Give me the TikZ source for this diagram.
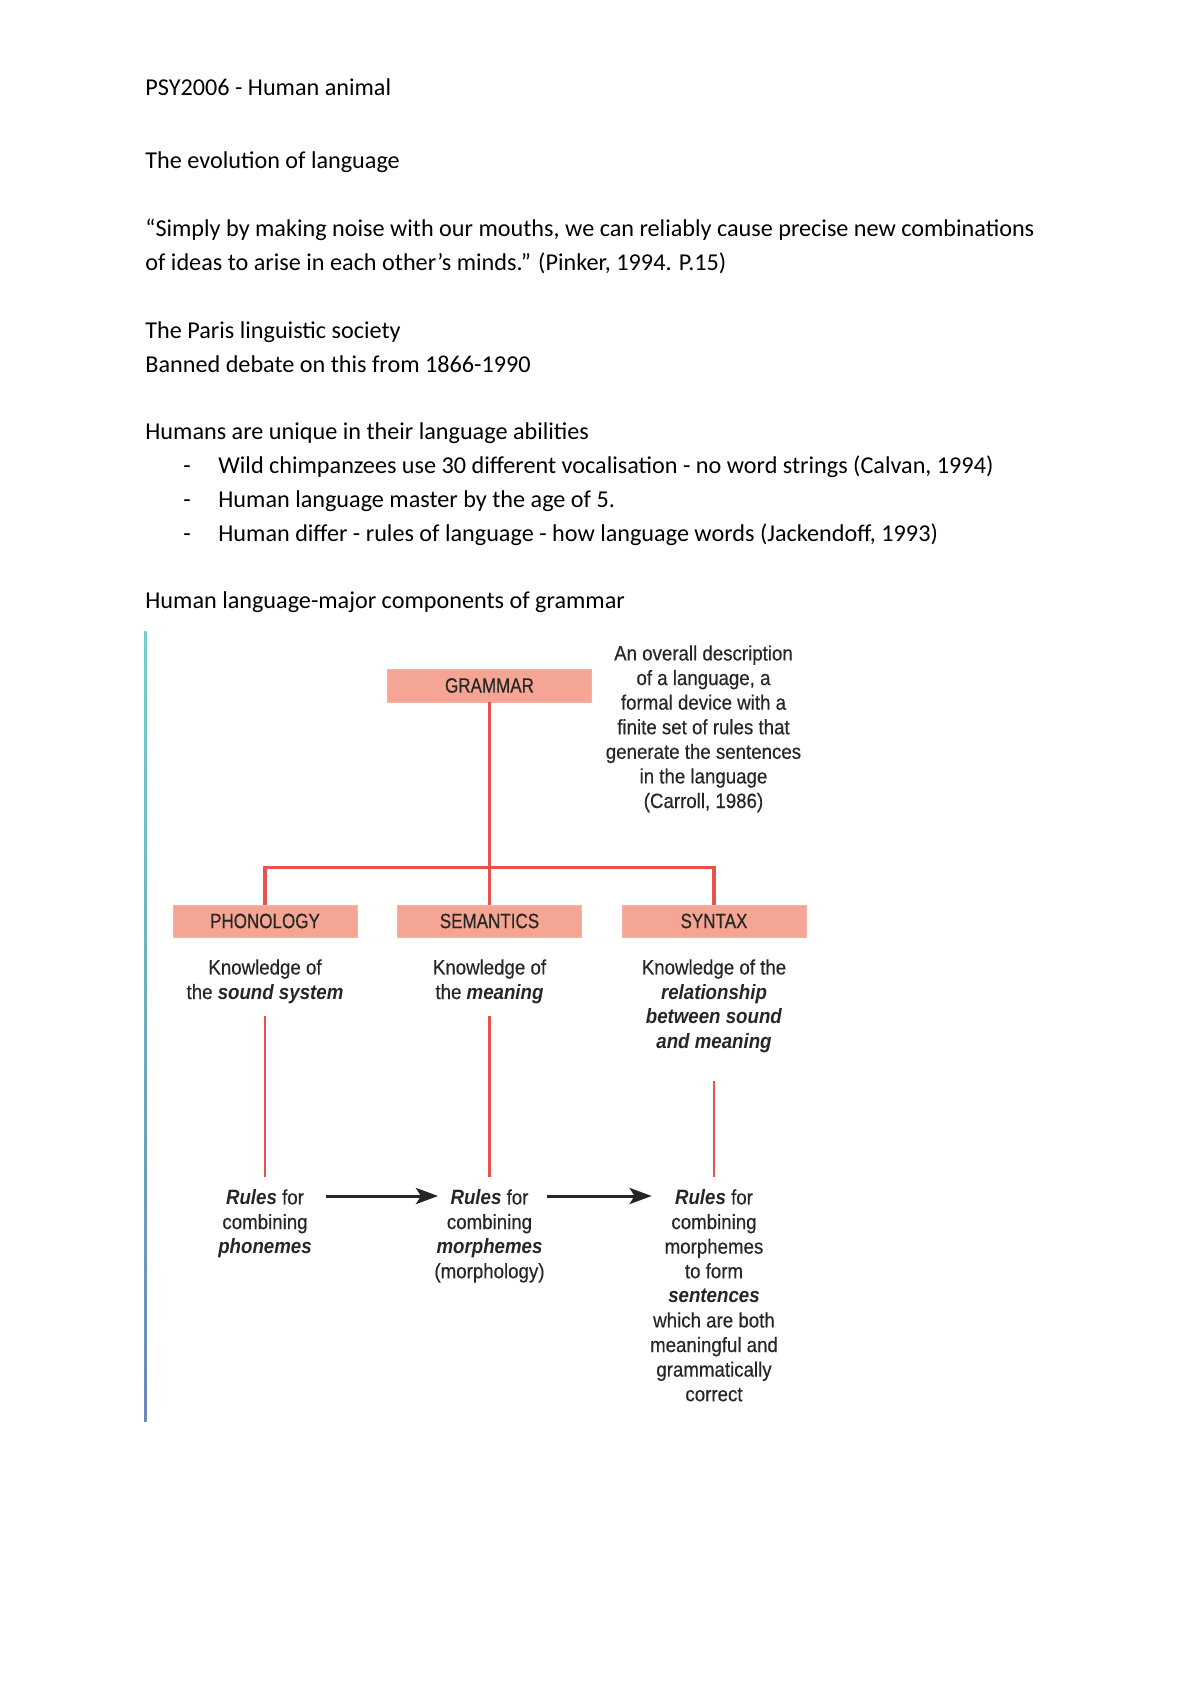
\documentclass[tikz,border=0pt]{standalone}
\usepackage{fontspec}
\setmainfont{Carlito}
\newfontfamily\dfont[FakeStretch=0.9, UprightFeatures={FakeBold=0.35}]{Liberation Sans}
\newfontfamily\bxfont[FakeStretch=0.82, FakeBold=0.35]{Liberation Sans}
\usetikzlibrary{arrows.meta}
\definecolor{salmon}{HTML}{F4A594}
\definecolor{treered}{HTML}{E8524D}
\definecolor{dtext}{HTML}{262626}
\definecolor{ruletop}{HTML}{70D0C8}
\definecolor{rulebot}{HTML}{6A88B8}
\newcommand{\bi}[1]{\textbf{\textit{#1}}}
\tikzset{
  body/.style={font=\fontsize{12}{14}\selectfont, anchor=base west, inner sep=0pt},
  dtxt/.style={font=\dfont\fontsize{10.3}{12.2}\selectfont, text=dtext, align=center, inner sep=0pt, anchor=north},
  gbox/.style={fill=salmon, draw=salmon!85!white, line width=0.4pt, font=\bxfont\fontsize{10.3}{12}\selectfont, text=dtext, inner sep=0pt},
  trunk/.style={treered, line width=1pt},
  branch/.style={treered, line width=1.6pt, line join=miter},
  drop/.style={treered, line width=1pt},
  flow/.style={black!85, line width=1.5pt, -{Stealth[length=11pt,width=8pt,inset=2.5pt]}}
}
\begin{document}
\begin{tikzpicture}[x=0.49607pt, y=-0.49607pt]
\useasboundingbox (0,0) rectangle (1200,1698);
\fill[white] (0,0) rectangle (1200,1698);

% body text
\node[body] (t1) at (145,95) {PSY2006 - Human animal};
\node[body] (t2) at (145,168.5) {The evolution of language};
\node[body] (t3) at (145,236) {“Simply by making noise with our mouths, we can reliably cause precise new combinations};
\node[body] (t4) at (145,270.5) {of ideas to arise in each other’s minds.” (Pinker, 1994. P.15)};
\node[body] (t5) at (145,338) {The Paris linguistic society};
\node[body] (t6) at (145,372.5) {Banned debate on this from 1866-1990};
\node[body] (t7) at (145,439.5) {Humans are unique in their language abilities};
\node[body] (d1) at (183,473.5) {-};
\node[body] (b1) at (218,473.5) {Wild chimpanzees use 30 different vocalisation - no word strings (Calvan, 1994)};
\node[body] (d2) at (183,507.5) {-};
\node[body] (b2) at (218,507.5) {Human language master by the age of 5.};
\node[body] (d3) at (183,541) {-};
\node[body] (b3) at (218,541) {Human differ - rules of language - how language words (Jackendoff, 1993)};
\node[body] (t8) at (145,608) {Human language-major components of grammar};

% left rule
\shade[top color=ruletop, bottom color=rulebot] (144.2,631) rectangle (146.6,1421);

% diagram boxes
\node[gbox, minimum width=101.2pt, minimum height=16.4pt] (grammar) at (489.5,685.5) {GRAMMAR};
\node[gbox, minimum width=91.3pt, minimum height=15.9pt] (phon) at (265,921) {PHONOLOGY};
\node[gbox, minimum width=91.3pt, minimum height=15.9pt] (sem) at (489.5,921) {SEMANTICS};
\node[gbox, minimum width=91.3pt, minimum height=15.9pt] (syn) at (714,921) {SYNTAX};

\node[dtxt] (desc) at (703.5,645) {An overall description\\of a language, a\\formal device with a\\finite set of rules that\\generate the sentences\\in the language\\(Carroll, 1986)};

% tree connectors
\coordinate (junction) at (489.5,867.5);
\draw[trunk] (grammar.south) -- (sem.north);
\draw[branch] (phon.north) |- (junction) -| (syn.north);

% knowledge texts
\node[dtxt] (phonK) at (265,959) {Knowledge of\\the \bi{sound system}};
\node[dtxt] (semK) at (489.5,959) {Knowledge of\\the \bi{meaning}};
\node[dtxt] (synK) at (714,959) {Knowledge of the\\\bi{relationship}\\\bi{between sound}\\\bi{and meaning}};

% rules texts
\node[dtxt] (phonR) at (265,1189) {\bi{Rules} for\\combining\\\bi{phonemes}};
\node[dtxt] (semR) at (489.5,1189) {\bi{Rules} for\\combining\\\bi{morphemes}\\(morphology)};
\node[dtxt] (synR) at (714,1189) {\bi{Rules} for\\combining\\morphemes\\to form\\\bi{sentences}\\which are both\\meaningful and\\grammatically\\correct};

% red drops
\draw[drop, shorten <=6pt, shorten >=6pt] (phonK.south) -- (phonR.north);
\draw[drop, shorten <=6pt, shorten >=6pt] (semK.south) -- (semR.north);
\draw[drop, shorten <=14pt, shorten >=6pt] (synK.south) -- (synR.north);

% arrows
\coordinate (row) at (0,1196);
\draw[flow, shorten <=7pt, shorten >=-2pt] (phonR.east |- row) -- (semR.west |- row);
\draw[flow, shorten <=1pt, shorten >=-1pt] (semR.east |- row) -- (synR.west |- row);
\end{tikzpicture}
\end{document}
